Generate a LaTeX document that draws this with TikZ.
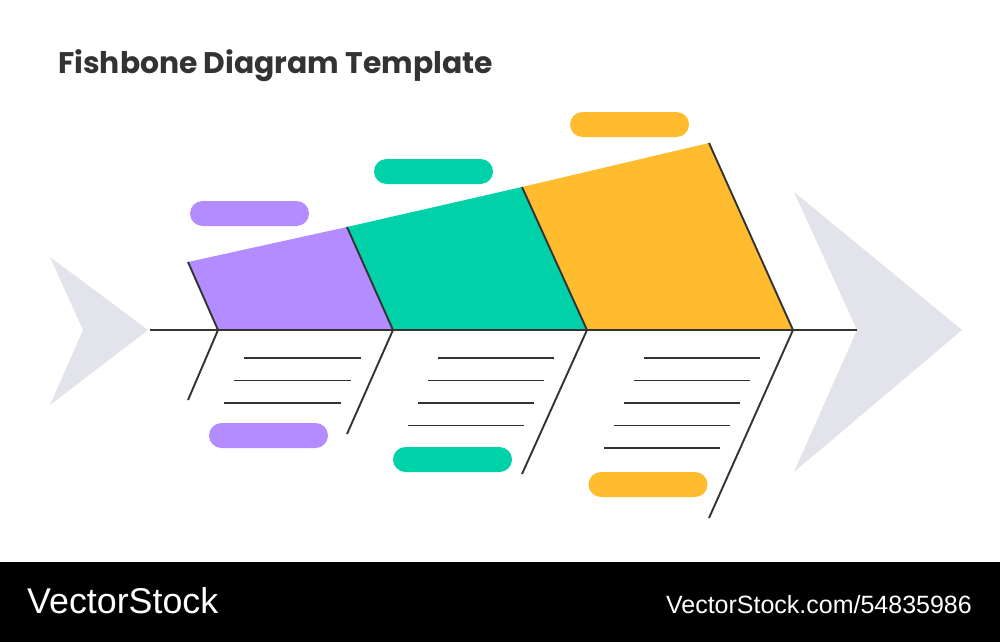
\documentclass[tikz,border=0pt]{standalone}
\usepackage{fontspec}
\setmainfont{Liberation Sans}
\newfontfamily\titlefont{Poppins}
\usetikzlibrary{positioning}

\definecolor{roxo}{HTML}{B38CFF}
\definecolor{verde}{HTML}{00D1A8}
\definecolor{laranja}{HTML}{FFBC2F}
\definecolor{cinza}{HTML}{E3E3EC}
\definecolor{escuro}{HTML}{333333}

\tikzset{
  osso/.style={draw=escuro, line width=1.9pt},
  linha/.style={draw=escuro, line width=1.9pt},
  pilula/.style={fill=#1, rounded corners=12.5pt, minimum width=119pt, minimum height=25pt, inner sep=0pt}
}

\begin{document}
\begin{tikzpicture}[x=1pt,y=-1pt]

% Fundo
\fill[white] (0,0) rectangle (1000,642);
\useasboundingbox (0,0) rectangle (1000,642);

% Titulo
\node[anchor=base west, inner sep=0pt, text=escuro] (titulo) at (58,73)
  {\titlefont\bfseries\fontsize{29.8}{30}\selectfont Fishbone Diagram Template};

% Cauda e cabeca do peixe
\fill[cinza] (50,257) -- (148,330) -- (50,405) -- (83,330) -- cycle;
\fill[cinza] (794,192) -- (962,330) -- (794,472) -- (857,330) -- cycle;

% Pontos da espinha
\coordinate (a) at (218,330);
\coordinate (b) at (393,330);
\coordinate (c) at (587,330);
\coordinate (d) at (793,330);

% Pontos de cima
\coordinate (a1) at (188,262);
\coordinate (b1) at (347,227);
\coordinate (c1) at (522,187);
\coordinate (d1) at (709,143);

% Pontos de baixo
\coordinate (a2) at (188,400);
\coordinate (b2) at (347,434);
\coordinate (c2) at (522,474);
\coordinate (d2) at (709,518);

% Blocos coloridos
\fill[roxo] (a1) -- (a) -- (b) -- (b1) -- cycle;
\fill[verde] (b1) -- (b) -- (c) -- (c1) -- cycle;
\fill[laranja] (c1) -- (c) -- (d) -- (d1) -- cycle;

% Espinha central
\coordinate (inicio) at (150,330);
\coordinate (fim) at (857,330);
\draw[osso] (inicio) -- (fim);

% Ossos de cima e de baixo
\foreach \p in {a,b,c,d} {
  \draw[osso] (\p1) -- (\p) -- (\p2);
}

% Linhas de texto
\foreach \i in {0,1,2}
  \draw[linha] (244-10*\i,358+22.5*\i) -- ++(117,0);
\foreach \i in {0,1,2,3}
  \draw[linha] (438-10*\i,358+22.5*\i) -- ++(116,0);
\foreach \i in {0,...,4}
  \draw[linha] (644-10*\i,358+22.5*\i) -- ++(116,0);

% Rotulos de cima
\node[pilula=roxo] (rotA) at (249.5,213.5) {};
\node[pilula=verde] (rotB) at (433.5,171.5) {};
\node[pilula=laranja] (rotC) at (629.5,124.5) {};

% Rotulos de baixo
\node[pilula=roxo] (rotA2) at (268.5,435.5) {};
\node[pilula=verde] (rotB2) at (452.5,459.5) {};
\node[pilula=laranja] (rotC2) at (648,484.5) {};

% Faixa do rodape
\fill[black] (0,562) rectangle (1000,642);
\node[anchor=base west, inner sep=0pt, text=white] (marca) at (27,613)
  {\fontsize{35.8}{36}\selectfont VectorStock};
\node[anchor=base east, inner sep=0pt, text=white] (site) at (972,613)
  {\fontsize{25}{25}\selectfont VectorStock.com/54835986};

\end{tikzpicture}
\end{document}
